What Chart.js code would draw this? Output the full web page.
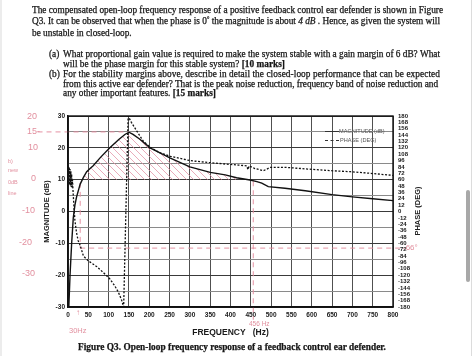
<!DOCTYPE html>
<html><head><meta charset="utf-8">
<script src="https://cdn.jsdelivr.net/npm/chart.js@4"></script>
<style>
html,body{margin:0;padding:0;background:#fff;}
body{width:474px;height:356px;position:relative;overflow:hidden;}
#c{position:absolute;left:0;top:0;z-index:1;}
.t{position:absolute;z-index:2;font-family:"Liberation Serif","Times New Roman",serif;font-size:9.3px;color:#161616;white-space:nowrap;line-height:1;-webkit-text-stroke:0.25px #161616;}
.p{position:absolute;z-index:2;color:#e2909f;font-family:"Liberation Sans",Arial,sans-serif;white-space:nowrap;line-height:1;}
.lg{position:absolute;z-index:2;font-family:"Liberation Sans",Arial,sans-serif;font-size:5.6px;color:#555;white-space:nowrap;line-height:1;}
.ls{position:absolute;z-index:2;width:14px;height:0;}
</style>
</head><body>
<canvas id="c" width="474" height="356"></canvas>

<div class="t fit" data-w="411" style="left:32px;top:5.5px">The compensated open-loop frequency response of a positive feedback control ear defender is shown in Figure</div>
<div class="t fit" data-w="408" style="left:32px;top:17px">Q3. It can be observed that when the phase is 0<span style="font-size:6px;position:relative;top:-3px">°</span> the magnitude is about <i>4 dB</i> . Hence, as given the system will</div>
<div class="t" style="left:32px;top:28.5px">be unstable in closed-loop.</div>
<div class="t" style="left:49px;top:49.5px">(a)</div>
<div class="t fit" data-w="377" style="left:63px;top:49.5px">What proportional gain value is required to make the system stable with a gain margin of 6 dB? What</div>
<div class="t" style="left:63px;top:59.5px">will be the phase margin for this stable system? <b>[10 marks]</b></div>
<div class="t" style="left:49px;top:69.5px">(b)</div>
<div class="t fit" data-w="377" style="left:63px;top:69.5px">For the stability margins above, describe in detail the closed-loop performance that can be expected</div>
<div class="t fit" data-w="375" style="left:63px;top:79.5px">from this active ear defender? That is the peak noise reduction, frequency band of noise reduction and</div>
<div class="t" style="left:63px;top:89px">any other important features. <b>[15 marks]</b></div>

<div class="t fit" data-w="308" style="left:78px;top:342.5px;font-weight:bold">Figure Q3. Open-loop frequency response of a feedback control ear defender.</div>

<!-- right axis title (reads bottom to top) -->
<div id="phTitle" style="position:absolute;z-index:2;left:417px;top:211px;transform:translate(-50%,-50%) rotate(-90deg);font:bold 7.5px 'Liberation Sans',Arial,sans-serif;color:#222;white-space:nowrap;">PHASE (DEG)</div>

<!-- legend -->
<div class="ls" style="left:325px;top:131px;border-top:1px solid #333"></div>
<div class="lg" style="left:339px;top:128.5px">MAGNITUDE (dB)</div>
<div class="ls" style="left:325px;top:140px;border-top:1px dashed #333"></div>
<div class="lg" style="left:340px;top:137.5px">PHASE (DEG)</div>

<!-- handwritten pink notes -->
<div class="p" style="left:27px;top:112px;font-size:9px">20</div>
<div class="p" style="left:27px;top:127px;font-size:9px">15-</div>
<div class="p" style="left:28px;top:143px;font-size:9px">10</div>
<div class="p" style="left:31px;top:174px;font-size:9px">0</div>
<div class="p" style="left:22px;top:206px;font-size:9px">-10</div>
<div class="p" style="left:19px;top:238px;font-size:9px">-20</div>
<div class="p" style="left:22px;top:269px;font-size:9px">-30</div>
<div class="p" style="left:8px;top:159px;font-size:5.5px">b)</div>
<div class="p" style="left:8px;top:168px;font-size:5.5px">new</div>
<div class="p" style="left:8px;top:180px;font-size:5.5px">0dB</div>
<div class="p" style="left:8px;top:191px;font-size:5.5px">line</div>
<div class="p" style="left:76px;top:309px;font-size:8px">↑</div>
<div class="p" style="left:69px;top:327px;font-size:7.5px">30Hz</div>
<div class="p" style="left:249px;top:321px;font-size:6.5px">456 Hz</div>
<div class="p" style="left:403px;top:244px;font-size:8px">-66°</div>

<!-- page chrome -->
<div style="position:absolute;z-index:3;left:0;top:0;width:2px;height:356px;background:#ececec"></div>
<div style="position:absolute;z-index:3;left:471px;top:0;width:1px;height:356px;background:#dcdcdc"></div>
<div style="position:absolute;z-index:3;left:466px;top:190px;width:3.5px;height:92px;background:#a8a8a8;border-radius:2px"></div>

<script>
// ---------------- data ----------------
const magFreq = [2, 5, 9, 13, 17, 21, 30, 38, 46, 55, 62, 80, 103, 125, 140, 150, 160, 177, 202, 252, 300, 350, 387, 415, 448, 465, 477, 493, 534, 584, 650, 700, 750, 800];
const magDb   = [-30, -20, -10, -2, 2, 4.5, 8.6, 10.7, 12.5, 13.6, 14.4, 17, 20, 22.6, 24.2, 24.9, 24.2, 22.7, 20, 16.8, 14, 12.3, 11.5, 10.6, 9.9, 9.4, 8.9, 7.8, 7.3, 6.5, 5.3, 4.6, 4, 3.4];

const phaseFreq = [1, 2, 3, 4, 5, 6, 7, 8, 9, 10, 11, 13, 15, 17, 21, 25, 30, 38, 50, 71, 87, 103, 115, 124, 132, 137, 148, 156, 169, 185, 202, 225, 252, 300, 350, 387, 420, 440, 443, 446, 460, 481, 498, 540, 590, 645, 695, 744, 800];
const phaseDeg  = [85, 55, 84, 50, 80, 48, 76, 46, 70, 44, 60, 30, 5, -17, -40, -55, -64, -84, -93, -104, -115, -127, -140, -152, -167, -180, 180, 168, 152, 133, 121, 111, 104, 96, 92, 89.5, 87.5, 86, 79, 86, 81, 77, 83, 83, 80, 77, 75, 72, 68];

const freqTicks  = [0, 50, 100, 150, 200, 250, 300, 350, 400, 450, 500, 550, 600, 650, 700, 750, 800];
const magTicks   = [-30, -25, -20, -15, -10, -5, 0, 5, 10, 15, 20, 25, 30];
const magLabels  = [-30, -20, -10, 0, 10, 20, 30];
const phaseTicks = [-180, -168, -156, -144, -132, -120, -108, -96, -84, -72, -60, -48, -36, -24, -12, 0, 12, 24, 36, 48, 60, 72, 84, 96, 108, 120, 132, 144, 156, 168, 180];

// hand-drawn annotations (data units: Hz, dB)
const newZeroDb   = 10;          // "new 0 dB line"
const hatchEdges  = [36, 425];   // where the magnitude crosses the new 0 dB line
const peakLineHz  = [-75, 150];  const peakLineDb  = [25, 25];
const pmLineHz    = [30, 825];   const pmLineDb    = [-11.5, -11.5];
const mark30Hz    = [30, 30];    const mark30Db    = [9, -11.5];
const mark456Hz   = [456, 456];  const mark456Db   = [9.5, -34];

// ---------------- build ----------------
const pts = (xs, ys) => xs.map((x, i) => ({x: x, y: ys[i]}));
const magPts = pts(magFreq, magDb);
const hatchPts = [{x: hatchEdges[0], y: newZeroDb}]
  .concat(magPts.filter(p => p.x > hatchEdges[0] && p.x < hatchEdges[1]))
  .concat([{x: hatchEdges[1], y: newZeroDb}]);

function hatchPattern() {
  const c = document.createElement('canvas');
  c.width = 7; c.height = 7;
  const g = c.getContext('2d');
  g.strokeStyle = 'rgba(226,140,160,0.9)';
  g.lineWidth = 0.8;
  g.beginPath(); g.moveTo(-1, -1); g.lineTo(8, 8); g.stroke();
  return g.createPattern(c, 'repeat');
}
const PINK = 'rgba(228,140,158,0.95)';
const pinkLine = (data) => ({data: data, borderColor: PINK, borderWidth: 1, borderDash: [5, 4], pointRadius: 0, clip: false, yAxisID: 'y', fill: false});

const frame = {
  id: 'frame',
  afterDatasetsDraw(chart) {
    const {ctx, chartArea: a} = chart;
    ctx.save(); ctx.strokeStyle = '#111'; ctx.lineWidth = 1.4;
    ctx.strokeRect(a.left, a.top, a.right - a.left, a.bottom - a.top);
    ctx.restore();
  }
};

const tickFont = {family: "'Liberation Sans', Arial, sans-serif", size: 6.5, weight: 'bold'};

new Chart(document.getElementById('c'), {
  type: 'line',
  data: {
    datasets: [
      {label: 'MAGNITUDE (dB)', data: magPts, borderColor: '#111', borderWidth: 1.4, pointRadius: 0, yAxisID: 'y', fill: false},
      {label: 'PHASE (DEG)', data: pts(phaseFreq, phaseDeg), borderColor: '#111', borderWidth: 1.3, borderDash: [2, 1.6], pointRadius: 0, yAxisID: 'y2', fill: false},
      pinkLine(pts(peakLineHz, peakLineDb)),
      pinkLine(pts(pmLineHz, pmLineDb)),
      pinkLine(pts(mark30Hz, mark30Db)),
      pinkLine(pts(mark456Hz, mark456Db)),
      {data: hatchPts, borderWidth: 0, borderColor: 'rgba(0,0,0,0)', pointRadius: 0, yAxisID: 'y', fill: {value: newZeroDb}, backgroundColor: hatchPattern()}
    ]
  },
  options: {
    responsive: false, animation: false, devicePixelRatio: 1,
    layout: {padding: {top: 116, left: 0, right: 0, bottom: 0}},
    plugins: {legend: {display: false}, tooltip: {enabled: false}},
    scales: {
      x: {
        type: 'linear', min: 0, max: 800,
        afterBuildTicks: s => { s.ticks = freqTicks.map(v => ({value: v})); },
        afterFit: s => { s.height = 49; },
        ticks: {font: tickFont, color: '#1a1a1a', padding: 4, autoSkip: false, maxRotation: 0},
        grid: {color: '#505050', lineWidth: 1, drawTicks: false},
        border: {color: '#111', width: 1.4},
        title: {display: true, text: 'FREQUENCY   (Hz)', color: '#1a1a1a', font: {family: "'Liberation Sans', Arial, sans-serif", size: 8.5, weight: 'bold'}, padding: {top: 0, bottom: 18}}
      },
      y: {
        type: 'linear', position: 'left', min: -30, max: 30,
        afterBuildTicks: s => { s.ticks = magTicks.map(v => ({value: v})); },
        afterFit: s => { s.width = 68; },
        ticks: {font: tickFont, color: '#1a1a1a', padding: 3, autoSkip: false, callback: v => magLabels.includes(v) ? String(v) : ''},
        grid: {color: c => (c.tick && magLabels.includes(c.tick.value)) ? '#3a3a3a' : '#8a8a8a', lineWidth: 1, drawTicks: false},
        border: {color: '#111', width: 1.4},
        title: {display: true, text: 'MAGNITUDE (dB)', color: '#1a1a1a', font: {family: "'Liberation Sans', Arial, sans-serif", size: 7.5, weight: 'bold'}, padding: {top: 42.5, bottom: 0}}
      },
      y2: {
        type: 'linear', position: 'right', min: -180, max: 180,
        afterBuildTicks: s => { s.ticks = phaseTicks.map(v => ({value: v})); },
        afterFit: s => { s.width = 81; },
        ticks: {font: {family: "'Liberation Sans', Arial, sans-serif", size: 6, weight: 'bold'}, color: '#1a1a1a', padding: 5, autoSkip: false},
        grid: {drawOnChartArea: false, drawTicks: false},
        border: {display: false},
        title: {display: false}
      }
    }
  },
  plugins: [frame]
});

// fit justified text lines to their measured widths in the scan
document.querySelectorAll('.fit').forEach(el => {
  const target = parseFloat(el.dataset.w);
  const w = el.getBoundingClientRect().width;
  const n = el.textContent.length;
  el.style.letterSpacing = ((target - w) / n) + 'px';
});
</script>
</body></html>
